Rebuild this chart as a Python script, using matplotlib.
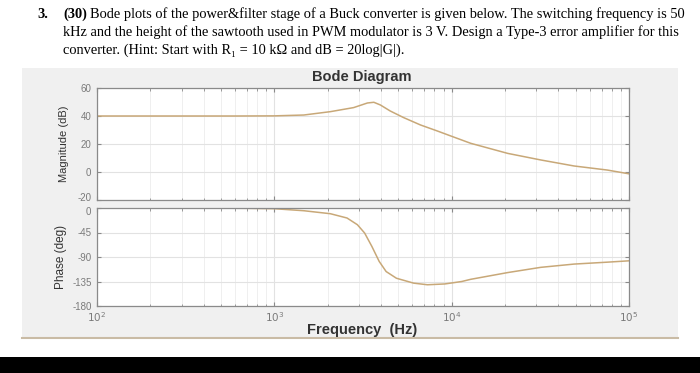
import matplotlib
matplotlib.use('Agg')
from matplotlib import pyplot as plt
from matplotlib.patches import Rectangle
from matplotlib.transforms import ScaledTranslation
from matplotlib.ticker import LogLocator, NullFormatter, FixedLocator

# values
mag_freq = [100, 300, 600, 1000, 1466, 2070, 2800, 3350, 3640, 3960, 4500,
            5350, 6670, 8300, 10000, 12800, 20700, 31800, 49000, 75400, 100000]
mag_db = [40.0, 40.0, 40.0, 40.1, 40.7, 43.1, 46.0, 49.3, 49.8, 47.9, 43.6,
          38.9, 33.6, 29.3, 25.5, 20.5, 13.3, 8.6, 4.3, 1.4, -1.3]

phase_freq = [100, 500, 700, 1000, 1466, 2070, 2570, 2940, 3230, 3550, 3900,
              4270, 4880, 6100, 7300, 9150, 11400, 12800, 20700, 31800,
              49000, 75400, 100000]
phase_deg = [0.0, -0.3, -0.6, -1.3, -5, -10.5, -18.4, -30.7, -46, -70.7, -98,
             -116.7, -129, -138, -141, -139.5, -135, -131, -118.6, -109,
             -103, -99.5, -97]

mag_ticks = [-20, 0, 20, 40, 60]
phase_ticks = [-180, -135, -90, -45, 0]
freq_ticks = [1e2, 1e3, 1e4, 1e5]

question = [
    "Bode plots of the power&filter stage of a Buck converter is given below. The switching frequency is 50",
    "kHz and the height of the sawtooth used in PWM modulator is 3 V. Design a Type-3 error amplifier for this",
    "converter. (Hint: Start with R\u2081 = 10 k\u03a9 and dB = 20log|G|).",
]

plt.rcParams['axes.unicode_minus'] = False
plt.rcParams['font.family'] = ['Liberation Sans', 'DejaVu Sans']

line_color = '#c8a878'
tick_color = '#7a7a7a'
serif = ['Liberation Serif', 'DejaVu Serif']
narrow = ['Liberation Sans Narrow', 'Liberation Sans', 'DejaVu Sans']

W, H = 700, 373
fig = plt.figure(figsize=(7, 3.73), dpi=100)
fig.patch.set_facecolor('white')


def fx(px):
    return px / W


def fy(py):
    return 1 - py / H


# gray figure panel, tan line under it, black bar at the bottom
fig.patches.append(Rectangle((fx(22), fy(338)), fx(656), 270 / H,
                             transform=fig.transFigure, facecolor='#f0f0f0',
                             edgecolor='none', zorder=-2))
fig.lines.append(plt.Line2D([fx(22), fx(678)], [fy(338), fy(338)],
                            transform=fig.transFigure, color='#c9bba5', lw=1.5,
                            zorder=-1))
fig.patches.append(Rectangle((0, 0), 1, 16 / H, transform=fig.transFigure,
                             facecolor='black', edgecolor='none', zorder=-1))

# question text
fs = 10.4
fig.text(fx(37), fy(14), "3.", fontsize=fs, family=serif, weight='bold',
         va='center', ha='left')
t30 = fig.text(fx(63), fy(14), "(30)", fontsize=fs, family=serif,
               weight='bold', va='center', ha='left')
r = fig.canvas.get_renderer()
x_end = t30.get_window_extent(r).x1
fig.text((x_end + 3) / W, fy(14), question[0], fontsize=fs, family=serif,
         va='center', ha='left')
fig.text(fx(63), fy(32), question[1], fontsize=fs, family=serif,
         va='center', ha='left')
fig.text(fx(63), fy(50), question[2], fontsize=fs, family=serif,
         va='center', ha='left')

ax_mag = fig.add_axes([fx(97), fy(200), fx(532), 112 / H])
ax_ph = fig.add_axes([fx(97), fy(306), fx(532), 98 / H])

for ax in (ax_mag, ax_ph):
    ax.set_facecolor('white')
    ax.set_xscale('log')
    ax.set_xlim(1e2, 1e5)
    ax.xaxis.set_major_locator(FixedLocator(freq_ticks))
    ax.xaxis.set_minor_locator(LogLocator(base=10, subs=range(2, 10)))
    ax.xaxis.set_minor_formatter(NullFormatter())
    ax.grid(True, which='major', color='#e2e2e2', lw=0.8)
    ax.grid(True, which='minor', axis='x', color='#ececec', lw=0.6)
    ax.set_axisbelow(True)
    for s in ax.spines.values():
        s.set_color('#8a8a8a')
        s.set_linewidth(0.9)
    ax.tick_params(which='both', direction='in', top=True, right=True,
                   colors='#8a8a8a', labelcolor=tick_color, labelsize=7,
                   pad=4)
    ax.tick_params(which='major', length=3)
    ax.tick_params(which='minor', length=1.8)

ax_mag.plot(mag_freq, mag_db, color=line_color, lw=1.1)
ax_mag.set_ylim(-20, 60)
ax_mag.set_yticks(mag_ticks)
ax_mag.tick_params(axis='x', labelbottom=False)
ax_mag.set_ylabel("Magnitude (dB)", fontsize=8, family=narrow,
                  color='#333333', labelpad=6)

ax_ph.plot(phase_freq, phase_deg, color=line_color, lw=1.1)
ax_ph.set_ylim(-180, 0)
ax_ph.set_yticks(phase_ticks)
ax_ph.set_ylabel("Phase (deg)", fontsize=8.5, family=narrow,
                 color='#333333', labelpad=4)
ax_ph.set_xticklabels([r'$10^{2}$', r'$10^{3}$', r'$10^{4}$', r'$10^{5}$'])
ax_ph.tick_params(axis='x', labelsize=7.5, pad=3)

# the -20 and 0 labels sit at the seam between the two axes: nudge them apart
fig.canvas.draw()
low = ax_mag.get_yticklabels()[0]
low.set_transform(low.get_transform() + ScaledTranslation(0, 3 / 100, fig.dpi_scale_trans))
top = ax_ph.get_yticklabels()[-1]
top.set_transform(top.get_transform() + ScaledTranslation(0, -3 / 100, fig.dpi_scale_trans))

fig.text(fx(362), fy(77), "Bode Diagram", fontsize=10.5, weight='bold',
         color='#333333', ha='center', va='center')
fig.text(fx(362), fy(330), "Frequency  (Hz)", fontsize=10.5, weight='bold',
         color='#333333', ha='center', va='center')

fig.savefig("out.png", dpi=100)
